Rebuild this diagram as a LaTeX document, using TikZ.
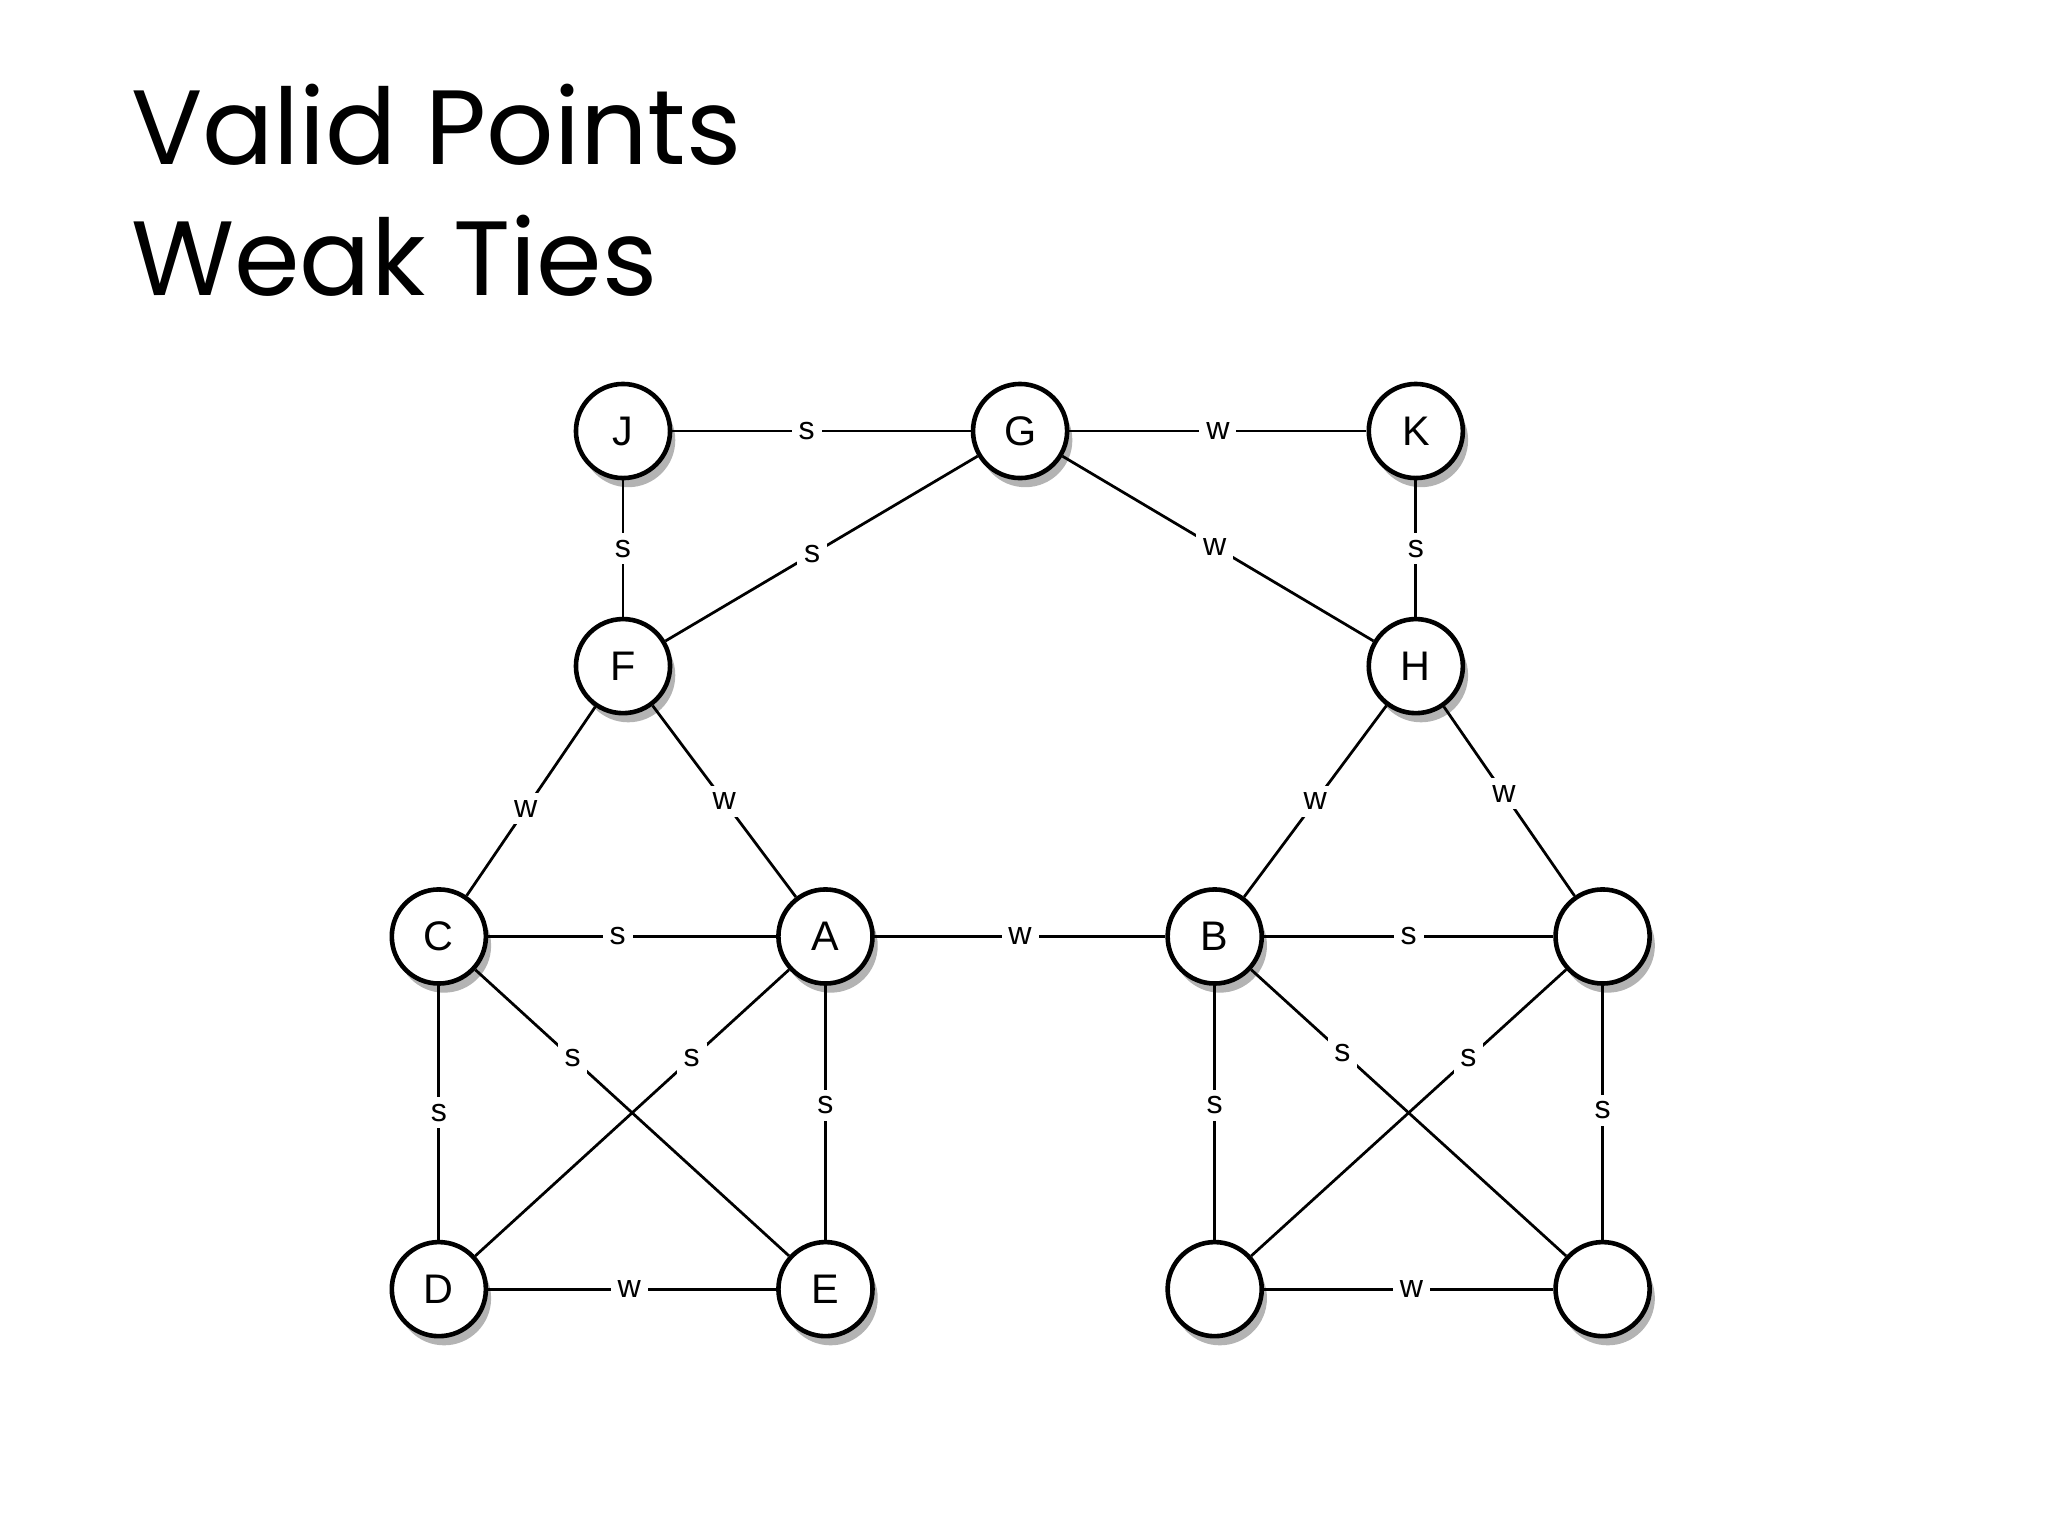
\documentclass[tikz,border=0pt]{standalone}
\usepackage{fontspec}
\setmainfont{Liberation Sans}
\newfontfamily\titlefont{Poppins}
\usetikzlibrary{shadows}
\begin{document}
\begin{tikzpicture}[x=0.01cm,y=-0.01cm,
  vert/.style={circle,draw,line width=1pt,fill=white,minimum size=0.72cm,inner sep=0pt,font=\fontsize{9}{9}\selectfont,drop shadow={shadow xshift=0.04cm,shadow yshift=-0.07cm,fill=black!50,opacity=0.6}},
  lab/.style={fill=white,inner sep=1.5pt,font=\fontsize{7}{7}\selectfont},
  edge/.style={line width=0.6pt}]
\useasboundingbox (0,0) rectangle (1568,1176);
\node[anchor=west,font=\titlefont\fontsize{23}{28.5}\selectfont,align=left] (title) at (88,146) {Valid Points\\Weak Ties};
\node[vert] (J) at (477,330) {J};
\node[vert] (G) at (781,330) {G};
\node[vert] (K) at (1084,330) {K};
\node[vert] (F) at (477,510) {F};
\node[vert] (H) at (1084,510) {H};
\node[vert] (C) at (336,717) {C};
\node[vert] (A) at (632,717) {A};
\node[vert] (B) at (930,717) {B};
\node[vert] (R1) at (1227,717) {};
\node[vert] (D) at (336,987) {D};
\node[vert] (E) at (632,987) {E};
\node[vert] (R2) at (930,987) {};
\node[vert] (R3) at (1227,987) {};
\draw[edge] (J) -- node[lab,pos=0.45] {s} (G);
\draw[edge] (G) -- node[lab] {w} (K);
\draw[edge] (J) -- node[lab] {s} (F);
\draw[edge] (K) -- node[lab] {s} (H);
\draw[edge] (G) -- node[lab,pos=0.53] {s} (F);
\draw[edge] (G) -- node[lab,pos=0.49] {w} (H);
\draw[edge] (F) -- node[lab,pos=0.54] {w} (C);
\draw[edge] (F) -- node[lab] {w} (A);
\draw[edge] (H) -- node[lab] {w} (B);
\draw[edge] (H) -- node[lab,pos=0.46] {w} (R1);
\draw[edge] (C) -- node[lab,pos=0.45] {s} (A);
\draw[edge] (A) -- node[lab] {w} (B);
\draw[edge] (B) -- node[lab,pos=0.5] {s} (R1);
\draw[edge] (C) -- node[lab] {s} (D);
\draw[edge] (A) -- node[lab,pos=0.47] {s} (E);
\draw[edge] (B) -- node[lab,pos=0.47] {s} (R2);
\draw[edge] (R1) -- node[lab,pos=0.49] {s} (R3);
\draw[edge] (C) -- node[lab,pos=0.31] {s} (E);
\draw[edge] (A) -- node[lab,pos=0.31] {s} (D);
\draw[edge] (B) -- node[lab,pos=0.29] {s} (R3);
\draw[edge] (R1) -- node[lab,pos=0.31] {s} (R2);
\draw[edge] (D) -- node[lab,pos=0.49] {w} (E);
\draw[edge] (R2) -- node[lab,pos=0.51] {w} (R3);
\end{tikzpicture}
\end{document}
